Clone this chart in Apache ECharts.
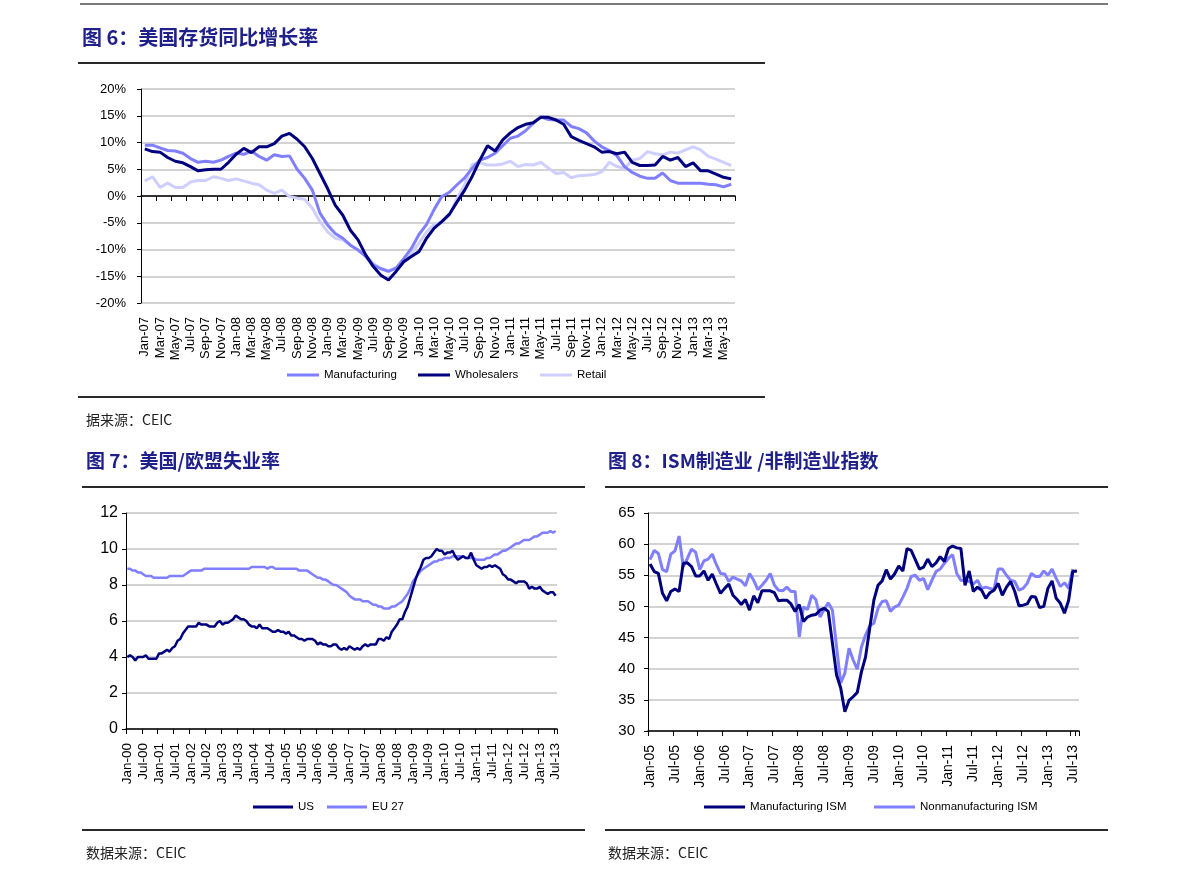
<!DOCTYPE html>
<html>
<head>
<meta charset="utf-8">
<script src="https://cdn.jsdelivr.net/npm/echarts@6/dist/echarts.min.js"></script>
<style>
html,body{margin:0;padding:0;background:#fff;}
#c{width:1190px;height:882px;}
</style>
</head>
<body>
<div id="c"></div>
<script>
// ---------- Chart 1: US inventories YoY (Jan-07 .. Jun-13, monthly) ----------
const invManufacturing = [
  9.5, 9.5, 9.0, 8.5, 8.4, 8.0, 7.0, 6.3, 6.5, 6.3,
  6.7, 7.4, 8.0, 7.8, 8.4, 7.4, 6.7, 7.7, 7.4, 7.5,
  5.0, 3.3, 1.1, -3.2, -5.4, -7.0, -7.9, -9.2, -10.1, -11.3,
  -12.9, -13.6, -14.1, -13.5, -11.7, -9.8, -7.2, -5.3, -2.5, -0.1,
  0.7, 2.1, 3.4, 5.2, 6.7, 7.2, 8.0, 9.4, 10.8, 11.2,
  12.2, 13.6, 14.8, 14.3, 14.2, 14.2, 13.0, 12.6, 11.8, 10.3,
  9.2, 8.5, 7.5, 5.5, 4.4, 3.7, 3.3, 3.3, 4.3, 2.9,
  2.4, 2.4, 2.4, 2.4, 2.2, 2.1, 1.7, 2.2
];
const invWholesalers = [
  8.8, 8.3, 8.2, 7.2, 6.5, 6.2, 5.5, 4.7, 4.9, 5.0,
  5.0, 6.3, 7.8, 8.9, 8.1, 9.2, 9.2, 9.8, 11.2, 11.7,
  10.6, 9.2, 7.0, 4.2, 1.4, -1.7, -3.6, -6.4, -8.2, -11.0,
  -13.2, -14.8, -15.7, -14.1, -12.3, -11.3, -10.4, -7.9, -6.0, -4.8,
  -3.4, -1.1, 1.1, 3.7, 6.7, 9.4, 8.4, 10.5, 11.8, 12.8,
  13.4, 13.7, 14.7, 14.7, 14.2, 13.4, 11.1, 10.4, 9.8, 9.2,
  8.2, 8.3, 7.9, 8.2, 6.3, 5.7, 5.7, 5.8, 7.4, 6.7,
  7.2, 5.5, 6.2, 4.7, 4.7, 4.1, 3.5, 3.2
];
const invRetail = [
  2.8, 3.6, 1.6, 2.4, 1.6, 1.6, 2.6, 2.9, 2.9, 3.6,
  3.3, 2.9, 3.2, 2.8, 2.4, 2.1, 1.1, 0.5, 1.1, -0.1,
  -0.4, -0.6, -2.3, -4.8, -6.7, -7.9, -8.2, -9.2, -10.1, -11.0,
  -12.6, -13.5, -14.0, -13.4, -12.3, -10.7, -8.8, -6.7, -5.3, -4.8,
  -3.6, -0.4, 2.1, 5.9, 6.2, 5.8, 5.8, 6.0, 6.5, 5.5,
  5.9, 5.8, 6.3, 5.2, 4.2, 4.4, 3.4, 3.8, 3.9, 4.0,
  4.5, 6.3, 5.5, 5.2, 6.7, 7.0, 8.3, 7.9, 7.7, 8.2,
  8.0, 8.6, 9.2, 8.6, 7.4, 6.9, 6.3, 5.7
];

// ---------- Chart 2: US / EU27 unemployment (Jan-00 .. Jul-13, monthly) ----------
const unempUS = [
  4.0,4.1,4.0,3.8,4.0,4.0,4.0,4.1,3.9,3.9,3.9,3.9,
  4.2,4.2,4.3,4.4,4.3,4.5,4.6,4.9,5.0,5.3,5.5,5.7,
  5.7,5.7,5.7,5.9,5.8,5.8,5.8,5.7,5.7,5.7,5.9,6.0,
  5.8,5.9,5.9,6.0,6.1,6.3,6.2,6.1,6.1,6.0,5.8,5.7,
  5.7,5.6,5.8,5.6,5.6,5.6,5.5,5.4,5.4,5.5,5.4,5.4,
  5.3,5.4,5.2,5.2,5.1,5.0,5.0,4.9,5.0,5.0,5.0,4.9,
  4.7,4.8,4.7,4.7,4.6,4.6,4.7,4.7,4.5,4.4,4.5,4.4,
  4.6,4.5,4.4,4.5,4.4,4.6,4.7,4.6,4.7,4.7,4.7,5.0,
  5.0,4.9,5.1,5.0,5.4,5.6,5.8,6.1,6.1,6.5,6.8,7.3,
  7.8,8.3,8.7,9.0,9.4,9.5,9.5,9.6,9.8,10.0,9.9,9.9,
  9.7,9.8,9.8,9.9,9.6,9.4,9.5,9.6,9.5,9.5,9.8,9.4,
  9.1,9.0,8.9,9.0,9.0,9.1,9.0,9.1,9.0,8.9,8.6,8.5,
  8.3,8.3,8.2,8.1,8.2,8.2,8.2,8.1,7.8,7.9,7.8,7.8,
  7.9,7.7,7.6,7.5,7.6,7.6,7.4
];
const unempEU27 = [
  8.9,8.9,8.8,8.8,8.7,8.7,8.6,8.5,8.5,8.5,8.4,8.4,
  8.4,8.4,8.4,8.4,8.5,8.5,8.5,8.5,8.5,8.5,8.6,8.7,
  8.8,8.8,8.8,8.8,8.8,8.9,8.9,8.9,8.9,8.9,8.9,8.9,
  8.9,8.9,8.9,8.9,8.9,8.9,8.9,8.9,8.9,8.9,8.9,9.0,
  9.0,9.0,9.0,9.0,9.0,8.9,9.0,9.0,8.9,8.9,8.9,8.9,
  8.9,8.9,8.9,8.9,8.9,8.8,8.8,8.8,8.8,8.7,8.6,8.5,
  8.4,8.4,8.3,8.3,8.2,8.1,8.0,8.0,7.9,7.8,7.7,7.6,
  7.4,7.3,7.2,7.2,7.2,7.1,7.1,7.1,7.0,6.9,6.9,6.8,
  6.8,6.7,6.7,6.7,6.8,6.8,6.9,7.0,7.1,7.3,7.5,7.8,
  8.2,8.4,8.6,8.8,8.9,9.0,9.1,9.2,9.3,9.3,9.4,9.4,
  9.5,9.5,9.5,9.6,9.6,9.6,9.6,9.6,9.5,9.5,9.5,9.5,
  9.4,9.4,9.4,9.4,9.5,9.5,9.6,9.7,9.7,9.8,9.9,9.9,
  10.0,10.1,10.2,10.3,10.3,10.4,10.5,10.5,10.5,10.6,10.7,10.7,
  10.8,10.9,10.9,10.9,11.0,10.9,11.0
];

// ---------- Chart 3: ISM indices (Jan-05 .. Aug-13, monthly) ----------
const ismManufacturing = [
  56.8,55.6,55.3,52.1,50.9,52.4,52.8,52.4,56.9,57.0,56.4,54.9,
  54.9,55.7,54.2,55.2,53.6,52.1,52.9,53.6,51.8,51.1,50.3,51.1,
  49.4,51.7,50.6,52.5,52.5,52.5,52.2,50.9,51.0,51.0,50.4,49.2,
  50.3,47.6,48.3,48.6,48.7,49.4,49.7,49.2,44.1,39.0,36.9,33.1,
  34.9,35.5,36.2,39.5,41.9,46.5,51.0,53.4,54.1,55.9,54.4,55.2,
  56.5,55.7,59.3,59.0,57.5,56.0,56.3,57.6,56.4,57.0,58.0,57.2,
  59.3,59.7,59.4,59.3,53.4,55.7,52.4,53.1,52.6,51.3,52.2,52.6,
  53.7,51.8,53.1,54.0,52.4,50.1,50.2,50.4,51.6,51.5,49.8,50.0,
  52.9,54.1,51.3,50.5,48.9,51.0,55.6,55.7
];
const ismNonManufacturing = [
  57.5,59.0,58.5,55.9,55.6,58.4,58.9,61.3,56.4,57.7,59.2,58.7,
  55.9,57.3,57.6,58.4,56.7,55.3,55.2,54.0,54.7,54.4,54.1,53.3,
  55.3,54.2,52.7,53.4,54.2,55.3,53.4,52.6,52.5,53.1,52.4,52.4,
  45.1,49.9,49.5,51.8,51.1,48.3,49.5,50.6,49.4,43.5,37.7,39.3,
  43.3,41.4,39.9,43.5,45.4,46.9,47.3,49.7,50.8,50.9,49.2,49.9,
  50.2,51.5,52.9,54.8,55.0,54.2,54.5,52.7,54.2,55.6,56.0,56.9,
  57.7,58.3,55.3,54.2,54.1,54.0,53.6,54.2,52.9,53.1,52.9,52.7,
  56.0,56.0,55.0,54.2,54.0,52.6,52.9,53.7,55.3,54.8,54.8,55.7,
  55.0,56.0,54.5,53.2,53.8,52.9,56.0,null
];

// ---------- Category (month) labels ----------
const monthNames = ['Jan','Feb','Mar','Apr','May','Jun','Jul','Aug','Sep','Oct','Nov','Dec'];
function monthLabels(startYear, count) {
  const out = [];
  for (let k = 0; k < count; k++) {
    const y = startYear + Math.floor(k / 12);
    out.push(monthNames[k % 12] + '-' + String(y % 100).padStart(2, '0'));
  }
  return out;
}
const cats1 = monthLabels(2007, invWholesalers.length);
const cats2 = monthLabels(2000, unempUS.length);
const cats3 = monthLabels(2005, ismManufacturing.length);

// ---------- Styling ----------
const NAVY = '#00007f';
const MID = '#7f7fff';
const LIGHT = '#cfcfff';
const GRID = '#c4c4c4';
const SANS = "'Liberation Sans', Arial, sans-serif";
const CJK = "'Noto Sans CJK SC', sans-serif";
const TITLE_COLOR = '#20208a';

function valueAxis(gridIndex, min, max, interval, fontSize, margin, fmt) {
  return {
    type: 'value', gridIndex, min, max, interval,
    axisLine: {show: true, lineStyle: {color: '#000', width: 1}},
    axisTick: {show: true, length: 4, lineStyle: {color: '#000'}},
    axisLabel: {color: '#000', fontSize, fontFamily: SANS, margin, formatter: fmt || '{value}'},
    splitLine: {show: true, lineStyle: {color: GRID, width: 1.5}}
  };
}
// every `step`-th month gets a label, starting at the first category
function labelAxisLabel(step, fontSize) {
  return {
    show: true, interval: 0, rotate: 90, margin: 14, color: '#000', fontSize, fontFamily: SANS,
    showMinLabel: true, showMaxLabel: true, hideOverlap: false,
    formatter: (value, index) => (index % step === 0 ? value : '')
  };
}
function lineSeries(name, data, color, xi, yi, width) {
  return {
    name, type: 'line', data, xAxisIndex: xi, yAxisIndex: yi,
    color, showSymbol: false, symbol: 'none', smooth: false,
    lineStyle: {color, width}, emphasis: {disabled: true}, connectNulls: false
  };
}
function legendItem(name, left, top, w) {
  return {
    data: [name], left, top, padding: 0, itemGap: 0,
    itemWidth: w, itemHeight: 3, icon: 'rect',
    textStyle: {color: '#000', fontSize: 11.5, fontFamily: SANS},
    selectedMode: false
  };
}
function hline(x1, x2, y, color, w) {
  return {type: 'line', shape: {x1, y1: y, x2, y2: y}, style: {stroke: color, lineWidth: w}, silent: true};
}
function txt(text, x, y, font, fill) {
  return {type: 'text', x, y, style: {text, font, fill, textVerticalAlign: 'middle'}, silent: true};
}

const chart = echarts.init(document.getElementById('c'), null, {renderer: 'canvas'});
chart.setOption({
  animation: false,
  backgroundColor: '#ffffff',
  grid: [
    {left: 141, top: 89, width: 594, height: 214},
    {left: 126, top: 513, width: 431, height: 216},
    {left: 648, top: 513, width: 431, height: 218}
  ],
  xAxis: [
    { // chart 1 zero line with ticks
      type: 'category', gridIndex: 0, data: cats1, boundaryGap: true,
      axisLine: {show: true, onZero: true, lineStyle: {color: '#000', width: 1.5}},
      axisTick: {show: true, interval: 1, length: 5, lineStyle: {color: '#000'}},
      axisLabel: {show: false}, splitLine: {show: false}
    },
    { // chart 1 labels at bottom
      type: 'category', gridIndex: 0, data: cats1, position: 'bottom', boundaryGap: true,
      axisLine: {show: false, onZero: false}, axisTick: {show: false}, splitLine: {show: false},
      axisLabel: labelAxisLabel(2, 13)
    },
    { // chart 2
      type: 'category', gridIndex: 1, data: cats2, boundaryGap: true,
      axisLine: {show: true, lineStyle: {color: '#000', width: 1.5}},
      axisTick: {show: true, interval: 5, length: 5, lineStyle: {color: '#000'}},
      axisLabel: labelAxisLabel(6, 13.5),
      splitLine: {show: false}
    },
    { // chart 3
      type: 'category', gridIndex: 2, data: cats3, boundaryGap: true,
      axisLine: {show: true, lineStyle: {color: '#000', width: 1.5}},
      axisTick: {show: true, interval: 5, length: 5, lineStyle: {color: '#000'}},
      axisLabel: labelAxisLabel(6, 14),
      splitLine: {show: false}
    }
  ],
  yAxis: [
    valueAxis(0, -20, 20, 5, 13, 15, '{value}%'),
    valueAxis(1, 0, 12, 2, 16, 8),
    valueAxis(2, 30, 65, 5, 15, 13)
  ],
  legend: [
    legendItem('Manufacturing', 287, 369, 32),
    legendItem('Wholesalers', 418, 369, 32),
    legendItem('Retail', 540, 369, 32),
    legendItem('US', 253, 801, 40),
    legendItem('EU 27', 327, 801, 40),
    legendItem('Manufacturing ISM', 704, 801, 41),
    legendItem('Nonmanufacturing ISM', 874, 801, 41)
  ],
  series: [
    lineSeries('Retail', invRetail, LIGHT, 0, 0, 3),
    lineSeries('Manufacturing', invManufacturing, MID, 0, 0, 3),
    lineSeries('Wholesalers', invWholesalers, NAVY, 0, 0, 3),
    lineSeries('EU 27', unempEU27, MID, 2, 1, 2.5),
    lineSeries('US', unempUS, NAVY, 2, 1, 2.5),
    lineSeries('Nonmanufacturing ISM', ismNonManufacturing, MID, 3, 2, 3),
    lineSeries('Manufacturing ISM', ismManufacturing, NAVY, 3, 2, 3)
  ],
  graphic: [
    hline(80, 1108, 4, '#7a7a7a', 2),
    txt('图 6：美国存货同比增长率', 82, 37, 'bold 20px ' + CJK, TITLE_COLOR),
    hline(78, 765, 63, '#2a2a2a', 2),
    hline(78, 765, 397, '#2a2a2a', 2),
    txt('据来源：CEIC', 86, 420, '14px ' + CJK, '#222'),
    txt('图 7：美国/欧盟失业率', 86, 461, 'bold 19px ' + CJK, TITLE_COLOR),
    txt('图 8：ISM制造业 /非制造业指数', 608, 461, 'bold 19px ' + CJK, TITLE_COLOR),
    hline(82, 585, 487, '#2a2a2a', 2),
    hline(605, 1108, 487, '#2a2a2a', 2),
    hline(82, 585, 830, '#2a2a2a', 2),
    hline(605, 1108, 830, '#2a2a2a', 2),
    txt('数据来源：CEIC', 86, 853, '14px ' + CJK, '#222'),
    txt('数据来源：CEIC', 608, 853, '14px ' + CJK, '#222')
  ]
});
</script>
</body>
</html>
